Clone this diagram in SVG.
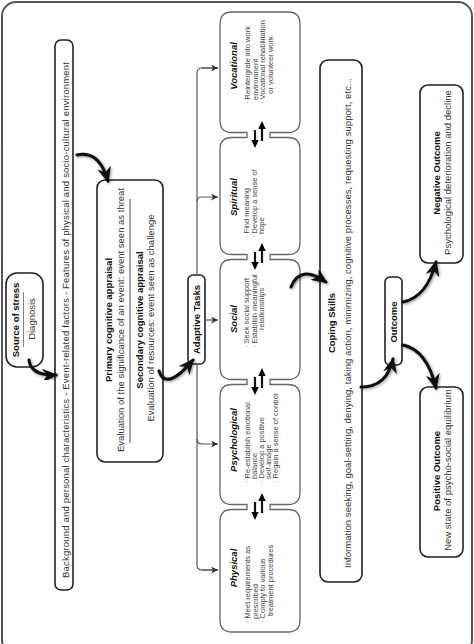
<svg xmlns="http://www.w3.org/2000/svg" width="474" height="644" viewBox="0 0 474 644">
<defs>
<style>
text{font-family:"Liberation Sans",Arial,sans-serif;font-size:9.5px;fill:#333}
.b{font-weight:bold;fill:#111}
.bi{font-weight:bold;font-style:italic;fill:#111}
.s{font-size:7.5px;fill:#444}
.m{text-anchor:middle}
.box{fill:#fff;stroke:#222;stroke-width:1.6}
.tbox{fill:#fff;stroke:#666;stroke-width:1.3}
.br{fill:none;stroke:#555;stroke-width:1.2}
.ar{marker-end:url(#tip)}
.sw{fill:none;stroke:#111;stroke-width:3;stroke-linecap:round;marker-end:url(#swh);filter:url(#sh)}
.ja{stroke:#111;stroke-width:2.2}
</style>
<marker id="tip" markerUnits="userSpaceOnUse" markerWidth="8" markerHeight="8" refX="7" refY="3.5" orient="auto"><path d="M0,0 L7,3.5 L0,7 L2,3.5 z" fill="#333"/></marker>
<marker id="swh" markerUnits="userSpaceOnUse" markerWidth="16" markerHeight="14" refX="14" refY="7" orient="auto"><path d="M0,0 L16,7 L0,14 L5,7 z" fill="#111"/></marker>
<filter id="sh" x="-30%" y="-30%" width="160%" height="160%"><feGaussianBlur in="SourceAlpha" stdDeviation="1.5"/><feOffset dx="1" dy="1" result="o"/><feComponentTransfer><feFuncA type="linear" slope="0.45"/></feComponentTransfer><feMerge><feMergeNode/><feMergeNode in="SourceGraphic"/></feMerge></filter>
</defs>
<rect x="0" y="0" width="474" height="644" fill="#fff"/>
<rect id="frame" x="2" y="2" width="470" height="652" rx="14" fill="none" stroke="#555" stroke-width="2"/>

<g id="background">
<rect class="box" x="55" y="40" width="18" height="550" rx="6"/>
<text class="m" x="69" y="320" transform="rotate(-90 69 320)" textLength="516" lengthAdjust="spacing">Background and personal characteristics  -  Event-related factors  -  Features of physical and socio-cultural environment</text>
</g>

<g id="source">
<rect class="box" x="6" y="273" width="37" height="94" rx="11" stroke-width="2"/>
<text class="b m" x="18.5" y="320" transform="rotate(-90 18.5 320)">Source of stress</text>
<line x1="23.5" y1="292" x2="23.5" y2="347" stroke="#666" stroke-width="0.8"/>
<text class="m" x="35" y="319" transform="rotate(-90 35 319)">Diagnosis</text>
</g>

<g id="appraisal">
<rect class="box" x="97" y="180" width="66" height="282" rx="8"/>
<text class="b m" x="112" y="320" transform="rotate(-90 112 320)">Primary cognitive appraisal</text>
<text class="m" x="123.5" y="320" transform="rotate(-90 123.5 320)">Evaluation of the significance of an event: event seen as threat</text>
<line x1="130" y1="199" x2="130" y2="443" stroke="#444" stroke-width="1"/>
<text class="b m" x="142.5" y="320" transform="rotate(-90 142.5 320)">Secondary cognitive appraisal</text>
<text class="m" x="154" y="318" transform="rotate(-90 154 318)">Evaluation of resources: event seen as challenge</text>
</g>

<g id="adaptive">
<rect class="box" x="188" y="275" width="17" height="89" rx="5"/>
<text class="b m" x="200" y="319.5" transform="rotate(-90 200 319.5)">Adaptive Tasks</text>
</g>

<g id="vocational">
<path class="tbox" d="M247,135 V132.5 H232 Q220,132.5 220,120.5 V24 Q220,12 232,12 H288 Q300,12 300,24 V120.5 Q300,132.5 288,132.5 H270 V135"/>
<text class="bi m" x="236.5" y="66" transform="rotate(-90 236.5 66)">Vocational</text>
<text class="s" x="250" y="104" transform="rotate(-90 250 104)">· Reintergrate into work</text>
<text class="s" x="257.5" y="100" transform="rotate(-90 257.5 100)">environment</text>
<text class="s" x="265" y="104" transform="rotate(-90 265 104)">· Vocational rehabilitation</text>
<text class="s m" x="272.5" y="65" transform="rotate(-90 272.5 65)">or volunteer work</text>
</g>

<g id="spiritual">
<path class="tbox" d="M247,135 V137.5 H232 Q220,137.5 220,149.5 V242.5 Q220,254.5 232,254.5 H247 V257 M270,135 V137.5 H288 Q300,137.5 300,149.5 V242.5 Q300,254.5 288,254.5 H270 V257"/>
<text class="bi m" x="236.5" y="197" transform="rotate(-90 236.5 197)">Spiritual</text>
<text class="s" x="249" y="238" transform="rotate(-90 249 238)">· Find meaning</text>
<text class="s" x="256.5" y="238" transform="rotate(-90 256.5 238)">· Develop a sense of</text>
<text class="s" x="264" y="234" transform="rotate(-90 264 234)">hope</text>
</g>

<g id="social">
<path class="tbox" d="M247,257 V259.5 H232 Q220,259.5 220,271.5 V367.5 Q220,379.5 232,379.5 H247 V382 M270,257 V259.5 H288 Q300,259.5 300,271.5 V367.5 Q300,379.5 288,379.5 H270 V382"/>
<text class="bi m" x="236.5" y="319" transform="rotate(-90 236.5 319)">Social</text>
<text class="s" x="249" y="348" transform="rotate(-90 249 348)">· Seek social support</text>
<text class="s" x="256.5" y="348" transform="rotate(-90 256.5 348)">· Establish meaningful</text>
<text class="s" x="264" y="330" transform="rotate(-90 264 330)">relationships</text>
</g>

<g id="psychological">
<path class="tbox" d="M247,382 V384.5 H232 Q220,384.5 220,396.5 V492.5 Q220,504.5 232,504.5 H247 V507 M270,382 V384.5 H288 Q300,384.5 300,396.5 V492.5 Q300,504.5 288,504.5 H270 V507"/>
<text class="bi m" x="236.5" y="440" transform="rotate(-90 236.5 440)">Psychological</text>
<text class="s" x="249.5" y="483" transform="rotate(-90 249.5 483)">· Re-establish emotional</text>
<text class="s" x="256.5" y="479" transform="rotate(-90 256.5 479)">balance</text>
<text class="s" x="263.5" y="483" transform="rotate(-90 263.5 483)">· Develop a positive</text>
<text class="s" x="270.5" y="479" transform="rotate(-90 270.5 479)">self-image</text>
<text class="s" x="277.5" y="483" transform="rotate(-90 277.5 483)">· Regain a sense of control</text>
</g>

<g id="physical">
<path class="tbox" d="M247,507 V509.5 H232 Q220,509.5 220,521.5 V620 Q220,632 232,632 H288 Q300,632 300,620 V521.5 Q300,509.5 288,509.5 H270 V507"/>
<text class="bi m" x="236.5" y="568" transform="rotate(-90 236.5 568)">Physical</text>
<text class="s" x="250" y="623" transform="rotate(-90 250 623)">· Meet requirements as</text>
<text class="s" x="257.5" y="619" transform="rotate(-90 257.5 619)">prescribed</text>
<text class="s" x="265" y="623" transform="rotate(-90 265 623)">· Comply to various</text>
<text class="s" x="272.5" y="616" transform="rotate(-90 272.5 616)">treatment procedures</text>
</g>

<g id="coping">
<rect class="box" x="320" y="60" width="42" height="522" rx="8"/>
<text class="b m" x="335" y="323" transform="rotate(-90 335 323)">Coping Skills</text>
<text class="m" x="350.5" y="323" transform="rotate(-90 350.5 323)" textLength="490" lengthAdjust="spacing">Information seeking, goal-setting, denying, taking action, minimizing, cognitive processes, requesting support, etc...</text>
</g>

<g id="outcome">
<rect class="box" x="385" y="277" width="17" height="88" rx="5"/>
<text class="b m" x="397" y="322" transform="rotate(-90 397 322)">Outcome</text>
</g>

<g id="negative">
<rect class="box" x="420" y="85" width="43" height="178" rx="8"/>
<text class="b m" x="439.5" y="173" transform="rotate(-90 439.5 173)">Negative Outcome</text>
<text class="m" x="451" y="172.5" transform="rotate(-90 451 172.5)">Psychological deterioration and decline</text>
</g>

<g id="positive">
<rect class="box" x="420" y="387" width="43" height="170" rx="8"/>
<text class="b m" x="439.5" y="471" transform="rotate(-90 439.5 471)">Positive Outcome</text>
<text class="m" x="451" y="470" transform="rotate(-90 451 470)">New state of psycho-social equilibrium</text>
</g>

<g id="connectors">
<path class="br" d="M197,275 V73 Q197,68 202,68 H218"/>
<path class="br" d="M197,364 V565 Q197,570 202,570 H218"/>
<path class="br ar" d="M202,68 H218"/>
<path class="br ar" d="M202,570 H218"/>
<path class="br ar" d="M197,202 Q197,197 202,197 H218"/>
<path class="br ar" d="M197,439 Q197,444 202,444 H218"/>
<path class="br ar" d="M205,320 H218"/>
<path class="sw" d="M29,360 Q31,376 56,375"/>
<path class="sw" d="M77,155 Q99,150 108,181"/>
<path class="sw" d="M159,371 Q166,392 193,360"/>
<path class="sw" d="M291,287 Q300,264 326,282"/>
<path class="sw" d="M361,387 Q387,387 393,359"/>
<path class="sw" d="M403,302 Q427,297 436,262"/>
<path class="sw" d="M403,345 Q427,350 436,388"/>
<g id="joint-arrows">
<line class="ja" x1="255" y1="130" x2="255" y2="141"/><polygon points="251.3,140 258.7,140 255,148"/>
<line class="ja" x1="262" y1="141" x2="262" y2="128"/><polygon points="258.3,129 265.7,129 262,121"/>
<line class="ja" x1="255" y1="252" x2="255" y2="263"/><polygon points="251.3,262 258.7,262 255,270"/>
<line class="ja" x1="262" y1="263" x2="262" y2="250"/><polygon points="258.3,251 265.7,251 262,243"/>
<line class="ja" x1="255" y1="377" x2="255" y2="388"/><polygon points="251.3,387 258.7,387 255,395"/>
<line class="ja" x1="262" y1="388" x2="262" y2="375"/><polygon points="258.3,376 265.7,376 262,368"/>
<line class="ja" x1="255" y1="502" x2="255" y2="513"/><polygon points="251.3,512 258.7,512 255,520"/>
<line class="ja" x1="262" y1="513" x2="262" y2="500"/><polygon points="258.3,501 265.7,501 262,493"/>
</g>
</g>
</svg>
